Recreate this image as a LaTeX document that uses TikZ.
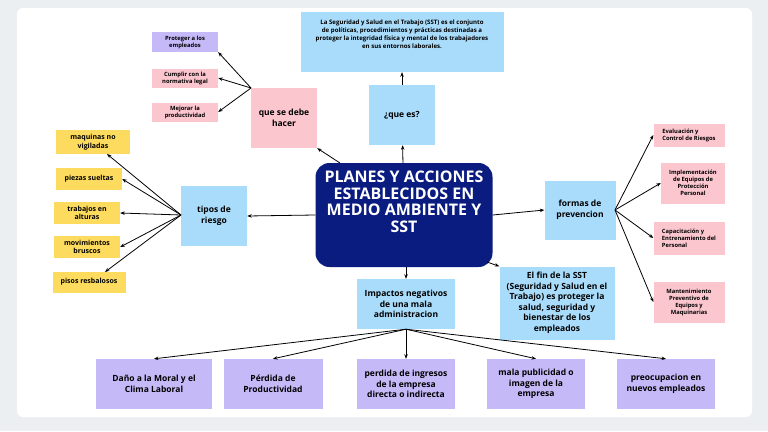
\documentclass[tikz,border=0pt]{standalone}
\usepackage{fontspec}
\setmainfont{Open Sans}
\usetikzlibrary{arrows.meta}
\definecolor{bgray}{HTML}{ECEFF2}
\definecolor{navy}{HTML}{0B1C80}
\definecolor{sky}{HTML}{A9DCFB}
\definecolor{rosa}{HTML}{FCC6CF}
\definecolor{lila}{HTML}{C6B9F8}
\definecolor{oro}{HTML}{FDDB5E}
\tikzset{
  box/.style={inner sep=1pt, align=center, font=\bfseries},
  small/.style={box, font=\fontsize{5.8}{7}\selectfont\bfseries},
  yel/.style={box, fill=oro, font=\fontsize{7}{8.5}\selectfont\bfseries},
  mid/.style={box, font=\fontsize{8.5}{10.5}\selectfont\bfseries},
  link/.style={-{Stealth[length=4.5pt,width=3.5pt]}, line width=0.8pt}
}
\begin{document}
\begin{tikzpicture}[x=1pt,y=-1pt]
        \fill[bgray] (0,0) rectangle (768,431);
        \fill[white, rounded corners=6pt] (17,8) rectangle (752,417);

        % centro
        \node (c)[fill=navy, rounded corners=14pt, minimum width=177pt, minimum height=104pt] at (404,215) {};
        \node (ct)[box, text=white, font=\fontsize{16}{16.5}\selectfont\bfseries] at (404,202) {PLANES Y ACCIONES\\ESTABLECIDOS EN\\MEDIO AMBIENTE Y\\SST};

        % que es
        \node (q)[mid, fill=sky, minimum width=66pt, minimum height=60pt] at (402,115) {¿que es?};
        \node (d)[box, fill=sky, minimum width=203pt, minimum height=60pt, font=\fontsize{6.1}{8}\selectfont\bfseries] at (402,42) {La Seguridad y Salud en el Trabajo (SST) es el conjunto\\de políticas, procedimientos y prácticas destinadas a\\proteger la integridad física y mental de los trabajadores\\en sus entornos laborales.\\[8pt]};
        \draw[link] (c) -- (q);
        \draw[link] (q) -- (d);

        % que se debe hacer
        \node (h)[mid, fill=rosa, minimum width=66pt, minimum height=60pt] at (284,118) {que se debe\\hacer};
        \node (h1)[small, fill=lila, minimum width=66pt, minimum height=20pt] at (185,42) {Proteger a los\\empleados};
        \node (h2)[small, fill=rosa, minimum width=66pt, minimum height=19pt] at (185,78) {Cumplir con la\\normativa legal};
        \node (h3)[small, fill=rosa, minimum width=66pt, minimum height=19pt] at (185,112) {Mejorar la\\productividad};
        \coordinate (cj) at (340,163);
        \draw[link] (cj) -- (h.south east);
        \coordinate (hj) at (251,88);
        \draw[link] (hj) -- (h1.south east);
        \draw[link] (hj) -- (h2.east);
        \draw[link] (hj) -- (h3.east);

        % tipos de riesgo
        \node (t)[mid, fill=sky, minimum width=66pt, minimum height=60pt] at (214,216) {tipos de\\riesgo};
        \node (t1)[yel, minimum width=74pt, minimum height=24pt] at (93,142) {maquinas no\\vigiladas};
        \node (t2)[yel, minimum width=66pt, minimum height=22pt] at (89,179) {piezas sueltas};
        \node (t3)[yel, minimum width=66pt, minimum height=22pt] at (87,213) {trabajos en\\alturas};
        \node (t4)[yel, minimum width=66pt, minimum height=22pt] at (87,247) {movimientos\\bruscos};
        \node (t5)[yel, minimum width=73pt, minimum height=21pt] at (89,282) {pisos resbalosos};
        \draw[link] (c.west) -- (t.east);
        \coordinate (tj) at (181,215);
        \draw[link] (tj) -- (107,154);
        \draw[link] (tj) -- (t2.east);
        \draw[link] (tj) -- (t3.east);
        \draw[link] (tj) -- (t4.east);
        \draw[link] (tj) -- (105,272);

        % formas de prevencion
        \node (f)[mid, fill=sky, minimum width=71pt, minimum height=59pt] at (580,210) {formas de\\prevencion};
        \node (f1)[small, fill=rosa, minimum width=71pt, minimum height=23pt, align=left] at (689,135) {Evaluación y\\Control de Riesgos};
        \node (f2)[small, fill=rosa, minimum width=64pt, minimum height=41pt] at (693,183) {Implementación\\de Equipos de\\Protección\\Personal};
        \node (f3)[small, fill=rosa, minimum width=71pt, minimum height=33pt, align=left] at (689,238) {Capacitación y\\Entrenamiento del\\Personal};
        \node (f4)[small, fill=rosa, minimum width=71pt, minimum height=41pt] at (689,302) {Mantenimiento\\Preventivo de\\Equipos y\\Maquinarias};
        \draw[link] (c.east) -- (f.west);
        \coordinate (fj) at (615,210);
        \draw[link] (fj) -- (f1.west);
        \draw[link] (fj) -- (f2.west);
        \draw[link] (fj) -- (f3.west);
        \draw[link] (fj) -- (f4.west);

        % el fin
        \node (e)[mid, fill=sky, minimum width=115pt, minimum height=73pt] at (557,303) {El fin de la SST\\(Seguridad y Salud en el\\Trabajo) es proteger la\\salud, seguridad y\\bienestar de los\\empleados};
        \coordinate (ce) at (487,262);
        \draw[link] (ce) -- (e.north west);

        % impactos
        \node (i)[mid, fill=sky, minimum width=98pt, minimum height=50pt] at (406,304) {Impactos negativos\\de una mala\\administracion};
        \draw[link] (c.south -| i.north) -- (i.north);
        \node (i1)[mid, fill=lila, minimum width=116pt, minimum height=50pt] at (154,384) {Daño a la Moral y el\\Clima Laboral};
        \node (i2)[mid, fill=lila, minimum width=99pt, minimum height=50pt] at (273,384) {Pérdida de\\Productividad};
        \node (i3)[mid, fill=lila, minimum width=98pt, minimum height=50pt] at (406,384) {perdida de ingresos\\de la empresa\\directa o indirecta};
        \node (i4)[mid, fill=lila, minimum width=98pt, minimum height=50pt] at (536,384) {mala publicidad o\\imagen de la\\empresa};
        \node (i5)[mid, fill=lila, minimum width=98pt, minimum height=50pt] at (666,384) {preocupacion en\\nuevos empleados};
        \foreach \k in {i1,i2,i3,i4,i5}
            \draw[link] (i.south) -- (\k.north);
\end{tikzpicture}
\end{document}
